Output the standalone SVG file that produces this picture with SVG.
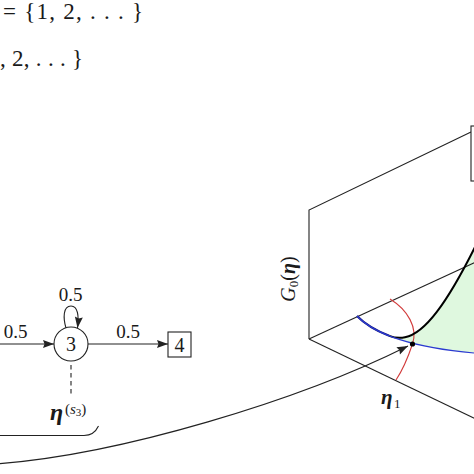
<svg xmlns="http://www.w3.org/2000/svg" width="474" height="474" viewBox="0 0 474 474">
<style>
  text { font-family: "Liberation Serif", "DejaVu Serif", serif; fill: #1a1a1a; }
  .ln { fill: none; stroke: #222; stroke-width: 1.1; }
  .arr { fill: none; stroke: #222; stroke-width: 1.1; marker-end: url(#tip); }
  .lbl { font-size: 19px; text-anchor: middle; }
  .eta { font-weight: bold; font-style: italic; }
</style>
<defs>
  <marker id="tip" markerUnits="userSpaceOnUse" markerWidth="13" markerHeight="10" refX="11" refY="4" orient="auto" overflow="visible">
    <path d="M0,0 L11,4 L0,8 L1.5,4 z" fill="#222"/>
  </marker>
</defs>

<g id="set-text">
  <text x="3" y="19" font-size="23" textLength="140" lengthAdjust="spacing">= {1, 2, . . . }</text>
  <text x="0" y="66" font-size="23" textLength="83" lengthAdjust="spacing">, 2, . . . }</text>
</g>

<g id="connectors">
  <path class="arr" d="M0,344 L54,344"/>
  <path class="arr" d="M88,344 L168,344"/>
  <path class="arr" d="M66,328 C63,318 63,306 71,306 C78,306 79,316 77.5,328"/>
  <path class="ln" d="M71,365 L71,396" stroke-dasharray="4.5,3.5"/>
  <path class="ln" d="M-2,435.5 L84,435.5 Q94,435.5 98.5,426"/>
  <path class="arr" d="M-5,464 C120,455 300,400 408,346"/>
</g>

<g id="edge-labels">
  <text class="lbl" x="70.5" y="300.5">0.5</text>
  <text class="lbl" x="15.5" y="338">0.5</text>
  <text class="lbl" x="128" y="338">0.5</text>
</g>

<g id="node-3">
  <circle cx="71" cy="344" r="17" fill="#fff" stroke="#222" stroke-width="1.1"/>
  <text x="71" y="351" font-size="20" text-anchor="middle">3</text>
</g>

<g id="node-4">
  <rect x="168" y="332" width="23" height="25" fill="#fff" stroke="#222" stroke-width="1.1"/>
  <text x="179.5" y="351.5" font-size="20" text-anchor="middle">4</text>
</g>

<g id="eta-s3-label">
  <text x="50" y="420" font-size="24" class="eta">η</text>
  <text x="65" y="413.5" font-size="15">(<tspan font-style="italic">s</tspan><tspan font-size="11" dy="2">3</tspan><tspan dy="-2">)</tspan></text>
</g>

<g id="plot-3d">
  <path d="M389.2,335.84 Q397,338.9 405,337.3 C425,333.3 447,303 475,247 L475,353 L474,353 Q420.6,348.2 389.2,335.84 Z" fill="#dff8df" stroke="none"/>
  <path class="ln" d="M309,339 L309,210 L471,132"/>
  <rect x="471" y="126" width="20" height="55" fill="#fff" stroke="#222" stroke-width="1.1"/>
  <path class="ln" d="M309,339 L476,262"/>
  <path class="ln" d="M309,339 L476,419"/>
  <path d="M390,299 C408,310 418,328 412.5,344 C410.5,350 404,368 396,380" fill="none" stroke="#d23c3c" stroke-width="1.1"/>
  <path d="M389.2,335.84 Q397,338.9 405,337.3 C425,333.3 447,303 475,247" fill="none" stroke="#000" stroke-width="2"/>
  <path d="M357,316 Q368.2,327.6 389.2,335.84" fill="none" stroke="#15157a" stroke-width="2.2"/>
  <path d="M357,316 Q385,345 474,353" fill="none" stroke="#2a3ad0" stroke-width="1.1"/>
  <circle cx="412.5" cy="344" r="2.6" fill="#000"/>
  <text transform="translate(295,279) rotate(-90)" font-size="20" text-anchor="middle"><tspan font-style="italic">G</tspan><tspan font-size="13" dy="3">0</tspan><tspan dy="-3">(</tspan><tspan class="eta">η</tspan>)</text>
  <text x="381" y="404" font-size="21" class="eta">η</text>
  <text x="394" y="408" font-size="13">1</text>
</g>
</svg>
